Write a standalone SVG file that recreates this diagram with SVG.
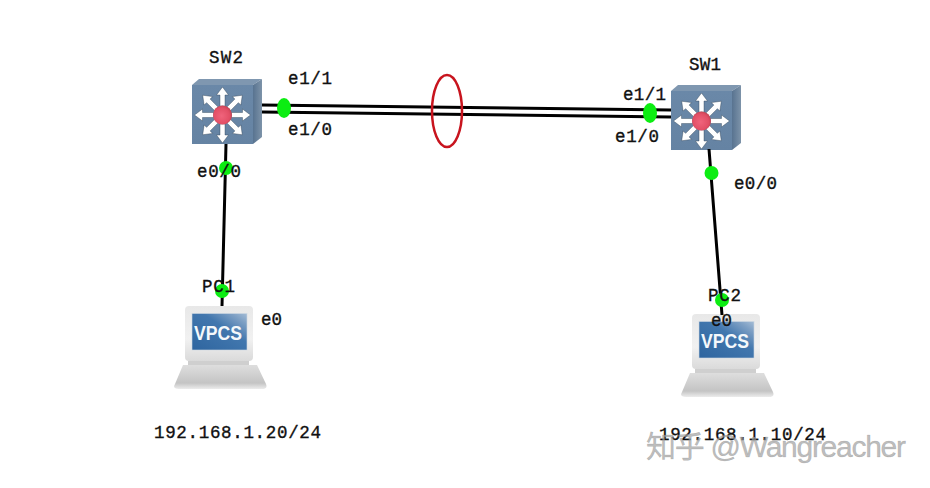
<svg xmlns="http://www.w3.org/2000/svg" xmlns:xlink="http://www.w3.org/1999/xlink" width="930" height="488" viewBox="0 0 930 488">
<style>
.lbl{font-family:"Liberation Mono","DejaVu Sans Mono",monospace;font-size:17.5px;fill:#111;stroke:#111;stroke-width:.35}
.vp{font-family:"Liberation Sans",Arial,sans-serif;font-size:20px;font-weight:bold;fill:#f4f8fb}
.wire{stroke:#000;stroke-width:3;fill:none}
.dot{fill:#0ced12}
.wm{font-family:"Liberation Sans","Noto Sans CJK SC",sans-serif;font-size:30px;fill:#a0a0a0;fill-opacity:.7;stroke:#777;stroke-opacity:.35;stroke-width:.5}
</style>
<defs>
<linearGradient id="front" x1="0" y1="0" x2="0" y2="1"><stop offset="0" stop-color="#6a88a8"/><stop offset="1" stop-color="#6583a3"/></linearGradient>
<linearGradient id="side" x1="0" y1="0" x2="1" y2="0"><stop offset="0" stop-color="#587390"/><stop offset="1" stop-color="#7d93a9"/></linearGradient>
<radialGradient id="ball" cx=".45" cy=".55" r=".6"><stop offset="0" stop-color="#f0647c"/><stop offset=".7" stop-color="#e24f66"/><stop offset="1" stop-color="#c0404f"/></radialGradient>
<linearGradient id="case" x1="0" y1="0" x2="0" y2="1"><stop offset="0" stop-color="#e8e8e8"/><stop offset=".6" stop-color="#f1f1f1"/><stop offset="1" stop-color="#dadada"/></linearGradient>
<linearGradient id="base" x1="0" y1="0" x2="0" y2="1"><stop offset="0" stop-color="#dedede"/><stop offset=".75" stop-color="#c4c4c4"/><stop offset="1" stop-color="#ececec"/></linearGradient>
<linearGradient id="scr" x1="0" y1="1" x2="1" y2="0"><stop offset="0" stop-color="#2e659f"/><stop offset=".6" stop-color="#4277ae"/><stop offset=".85" stop-color="#7d9fc4"/><stop offset="1" stop-color="#a5bdd6"/></linearGradient>
<path id="arr" d="M9 -2.500H20V-6L28 0L20 6V2.500H9Z" fill="#fff" stroke="#2c3e50" stroke-width=".4"/>
<g id="swicon">
<path d="M0 0L7 -6H70L61 0Z" fill="#7f97b0"/>
<path d="M61 0L70 -6V52L61 59Z" fill="url(#side)"/>
<rect x="0" y="0" width="61" height="59" fill="url(#front)"/>
<g transform="translate(30.5 30)">
<use xlink:href="#arr"/><use xlink:href="#arr" transform="rotate(45)"/><use xlink:href="#arr" transform="rotate(90)"/><use xlink:href="#arr" transform="rotate(135)"/><use xlink:href="#arr" transform="rotate(180)"/><use xlink:href="#arr" transform="rotate(225)"/><use xlink:href="#arr" transform="rotate(270)"/><use xlink:href="#arr" transform="rotate(315)"/>
<circle r="9.5" fill="url(#ball)"/>
</g>
</g>
<g id="pcicon">
<rect x="3" y="55" width="61" height="5" fill="#cfcfcf"/>
<path d="M-2 59H72L81 78Q83 83 77 83H-6Q-13 83 -10 78Z" fill="url(#base)"/>
<rect x="0" y="0" width="68" height="55" rx="4" fill="url(#case)"/>
<rect x="7" y="7.500" width="55" height="36.500" fill="url(#scr)" stroke="#cdd8e2" stroke-width=".6"/>
<text class="vp" x="9" y="34" textLength="48" lengthAdjust="spacingAndGlyphs">VPCS</text>
</g>
</defs>
<rect width="930" height="488" fill="#fff"/>
<g id="SW2"><use xlink:href="#swicon" x="192" y="85"/></g>
<g id="SW1"><use xlink:href="#swicon" x="671" y="91"/></g>
<g id="PC1"><use xlink:href="#pcicon" x="185" y="306"/></g>
<g id="PC2"><use xlink:href="#pcicon" x="692" y="314"/></g>
<g id="connectors">
<path class="wire" d="M262 105L671 110M262 112L671 117M226 144L222 306M709 149L722 315"/>
<ellipse class="dot" cx="284" cy="108" rx="7" ry="10"/>
<ellipse class="dot" cx="650" cy="113" rx="7" ry="10"/>
<circle class="dot" cx="226" cy="168" r="7"/>
<circle class="dot" cx="222" cy="291" r="7"/>
<circle class="dot" cx="711.500" cy="173" r="7"/>
<circle class="dot" cx="722" cy="300" r="7"/>
</g>
<ellipse id="bundle" cx="447" cy="111" rx="15" ry="36" fill="none" stroke="#c8141e" stroke-width="2.500"/>
<g id="labels">
<text class="lbl" x="209" y="63" textLength="34" lengthAdjust="spacing">SW2</text>
<text class="lbl" x="689" y="70" textLength="32" lengthAdjust="spacing">SW1</text>
<text class="lbl" x="288" y="84" textLength="44" lengthAdjust="spacing">e1/1</text>
<text class="lbl" x="288" y="135" textLength="44" lengthAdjust="spacing">e1/0</text>
<text class="lbl" x="197" y="177" textLength="44" lengthAdjust="spacing">e0/0</text>
<text class="lbl" x="623" y="100" textLength="43" lengthAdjust="spacing">e1/1</text>
<text class="lbl" x="615" y="142" textLength="44" lengthAdjust="spacing">e1/0</text>
<text class="lbl" x="734" y="189" textLength="43" lengthAdjust="spacing">e0/0</text>
<text class="lbl" x="202" y="292" textLength="33" lengthAdjust="spacing">PC1</text>
<text class="lbl" x="261" y="325" textLength="21" lengthAdjust="spacing">e0</text>
<text class="lbl" x="708" y="301" textLength="33" lengthAdjust="spacing">PC2</text>
<text class="lbl" x="711" y="326" textLength="21" lengthAdjust="spacing">e0</text>
<text class="lbl" x="154" y="438" textLength="167" lengthAdjust="spacing">192.168.1.20/24</text>
<text class="lbl" x="659" y="440" textLength="167" lengthAdjust="spacing">192.168.1.10/24</text>
</g>
<text class="wm" x="646" y="457" textLength="260" lengthAdjust="spacing">知乎 @Wangreacher</text>
</svg>
